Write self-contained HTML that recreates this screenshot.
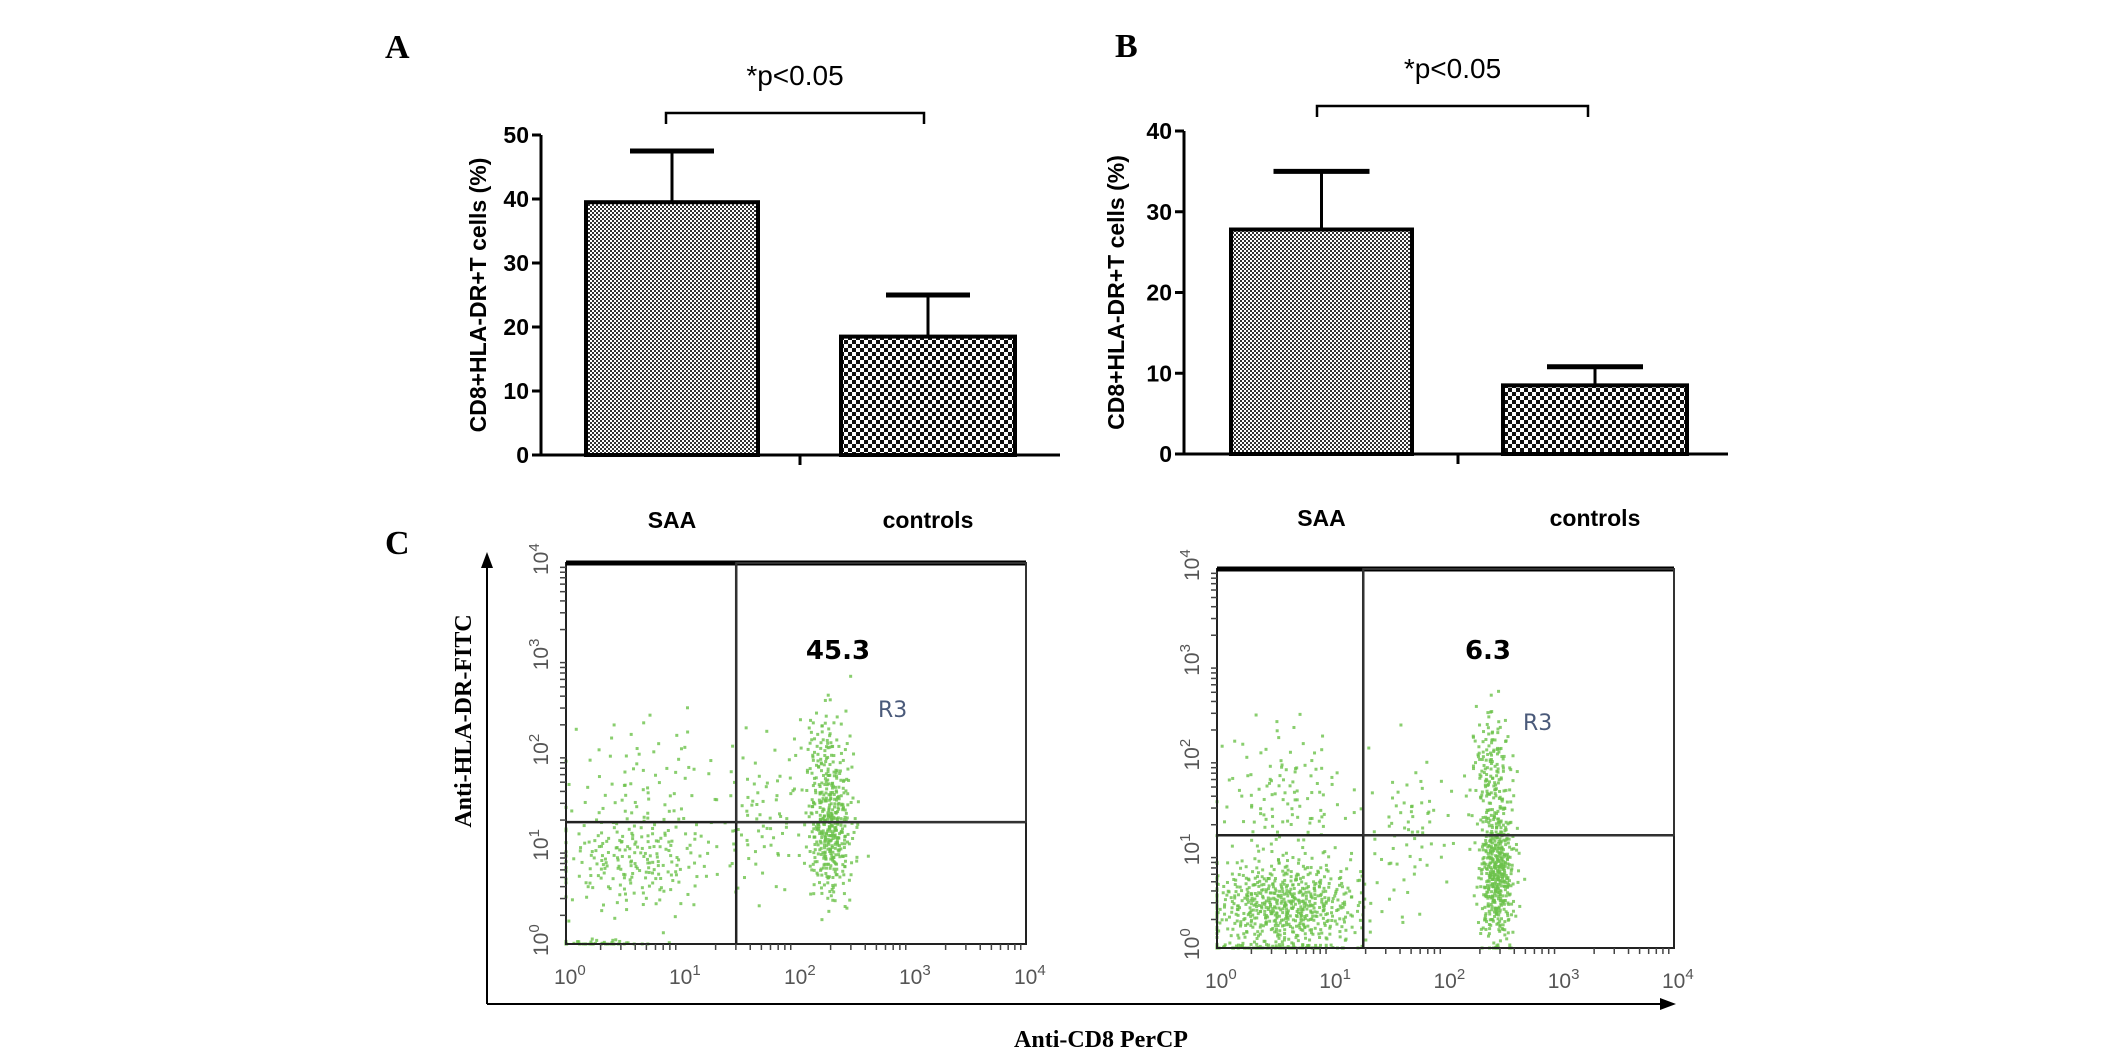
<!DOCTYPE html>
<html><head><meta charset="utf-8"><style>
html,body{margin:0;padding:0;background:#fff;}
svg{display:block;}
.ax{stroke:#000;stroke-width:3;fill:none;}
.tk{font-family:"Liberation Sans",sans-serif;font-weight:bold;font-size:23px;}
.lt{font-family:"Liberation Serif",serif;font-weight:bold;font-size:34px;}
</style></head><body>
<svg id="fig" width="2126" height="1056" viewBox="0 0 2126 1056" xmlns="http://www.w3.org/2000/svg">
<defs>
<pattern id="fine" width="4" height="4" patternUnits="userSpaceOnUse"><rect width="4" height="4" fill="#fff"/><rect width="2" height="2" fill="#333"/><rect x="2" y="2" width="2" height="2" fill="#333"/></pattern>
<pattern id="coarse" width="8" height="8" patternUnits="userSpaceOnUse"><rect width="8" height="8" fill="#fff"/><rect width="4" height="4" fill="#111"/><rect x="4" y="4" width="4" height="4" fill="#111"/></pattern>
</defs>
<text x="385" y="58" class="lt">A</text>
<text x="1115" y="57" class="lt">B</text>
<text x="385" y="554" class="lt">C</text>
<g id="gA"></g>
<g id="gB"></g>
<g id="gC"></g>
</svg>
<script>
const NS="http://www.w3.org/2000/svg";
// Bar chart data
const groups=["SAA","controls"];
const valuesA=[39.5,18.5];
const errorsA=[47.5,25];
const valuesB=[27.8,8.5];
const errorsB=[35,10.8];
const ticksA=[0,10,20,30,40,50];
const ticksB=[0,10,20,30,40];
// Flow data: clusters [xCenterLog, yCenterLog, xSpread, ySpread, count]
const flowLeftClusters=[[0.6,0.9,0.5,0.4,230],[0.7,1.8,0.5,0.45,60],[2.3,1.2,0.13,0.5,380],[2.25,2.0,0.16,0.4,90],[1.7,1.3,0.25,0.55,70],[0.3,0.0,0.3,0.04,40]];
const flowRightClusters=[[0.6,0.45,0.5,0.35,650],[0.6,1.6,0.4,0.55,120],[2.45,0.8,0.1,0.55,480],[2.4,1.9,0.12,0.45,140],[1.7,1.3,0.25,0.5,60],[0.5,0.0,0.45,0.04,60]];
const flowValues=["45.3","6.3"];
const decadeLabels=["0","1","2","3","4"];

function el(tag,attrs,parent,text){const e=document.createElementNS(NS,tag);for(const k in attrs)e.setAttribute(k,attrs[k]);if(text!==undefined)e.textContent=text;parent.appendChild(e);return e;}

function bar(gid,cfg,vals,errs,ticks){
 const g=document.getElementById(gid);
 const y=v=>cfg.y0-(v)*(cfg.y0-cfg.yTop)/cfg.max;
 let ax=el('line',{x1:cfg.ax,y1:y(cfg.max),x2:cfg.ax,y2:cfg.y0,class:'ax'},g);
 
 let xa=el('line',{x1:cfg.xa0,y1:cfg.y0,x2:cfg.xa1,y2:cfg.y0,class:'ax'},g);
 
 el('line',{x1:cfg.mid,y1:cfg.y0,x2:cfg.mid,y2:cfg.y0+10,class:'ax'},g);
 ticks.forEach(t=>{
  el('line',{x1:cfg.ax-9,y1:y(t),x2:cfg.ax,y2:y(t),class:'ax'},g);
  const tx=el('text',{x:cfg.ax-12,y:y(t)+8,'text-anchor':'end',class:'tk'},g,String(t));
  
 });
 const yl=el('text',{x:0,y:0,transform:`translate(${cfg.ylx},${(y(cfg.max)+cfg.y0)/2}) rotate(-90)`,'text-anchor':'middle',class:'tk'},g,'CD8+HLA-DR+T cells (%)');
 
 vals.forEach((v,i)=>{
  const b=cfg.bars[i];const cx=(b[0]+b[1])/2;
  const ln=el('line',{x1:cx,y1:y(errs[i]),x2:cx,y2:y(v),class:'ax'},g);
  
  el('line',{x1:cx-cfg.cap,y1:y(errs[i]),x2:cx+cfg.cap,y2:y(errs[i]),class:'ax',style:'stroke-width:5'},g);
  const r=el('rect',{x:b[0],y:y(v),width:b[1]-b[0],height:cfg.y0-y(v),fill:i==0?'url(#fine)':'url(#coarse)',stroke:'#000','stroke-width':4},g);
  
  const lb=el('text',{x:cx,y:cfg.labY,'text-anchor':'middle',class:'tk'},g,groups[i]);
  
 });
 el('path',{d:`M${cfg.br[0]},${cfg.br[3]} V${cfg.br[2]} H${cfg.br[1]} V${cfg.br[3]}`,class:'ax',style:'stroke-width:2.5'},g);
 const p=el('text',{x:(cfg.br[0]+cfg.br[1])/2,y:cfg.br[2]-28,'text-anchor':'middle',style:'font-family:"Liberation Sans",sans-serif;font-size:28px'},g,'*p<0.05');
 
}
bar('gA',{ax:541,xa0:532,xa1:1060,mid:800,y0:455,yTop:135,max:50,ylx:486,cap:42,labY:528,bars:[[586,758],[841,1015]],br:[666,924,113,124]},valuesA,errorsA,ticksA);
bar('gB',{ax:1184,xa0:1175,xa1:1728,mid:1458,y0:454,yTop:131,max:40,ylx:1124,cap:48,labY:526,bars:[[1231,1412],[1503,1687]],br:[1317,1588,106,117]},valuesB,errorsB,ticksB);

// quasi-random (Halton) deterministic sampling
function halton(i,b){let f=1,r=0;while(i>0){f/=b;r+=f*(i%b);i=Math.floor(i/b);}return r;}
function gauss(u){u=Math.min(Math.max(u,0.001),0.999);return Math.sqrt(-2*Math.log(u));}
function flow(cfg,clusters,val){
 const g=document.getElementById('gC');
 const X=l=>cfg.x0+l*(cfg.x1-cfg.x0)/4, Y=l=>cfg.y0-l*(cfg.y0-cfg.y1)/4;
 const dots=el('g',{fill:'#6cc24a'},g);
 
 let k=cfg.seed;
 clusters.forEach(c=>{for(let i=0;i<c[4];i++){k++;
  const u=halton(k,2),v=halton(k,3),w=halton(k,5);
  const r=gauss(u)*0.7,a=v*2*Math.PI;
  let lx=c[0]+c[2]*r*Math.cos(a)+ (w-0.5)*0.1, ly=c[1]+c[3]*r*Math.sin(a);
  lx=Math.max(0,Math.min(3.95,lx));ly=Math.max(0,Math.min(3.95,ly));
  el('rect',{x:X(lx)-1.5,y:Y(ly)-1.5,width:3,height:3,opacity:0.8},dots);}});
 const b=el('rect',{x:cfg.x0,y:cfg.y1,width:cfg.x1-cfg.x0,height:cfg.y0-cfg.y1,fill:'none',stroke:'#222','stroke-width':2},g);
 
 el('line',{x1:cfg.x0,y1:cfg.y1,x2:cfg.x1,y2:cfg.y1,stroke:'#000','stroke-width':5},g);
 el('line',{x1:X(cfg.gx),y1:cfg.y1,x2:X(cfg.gx),y2:cfg.y0,stroke:'#222','stroke-width':2.5},g);
 el('line',{x1:cfg.x0,y1:Y(cfg.gy),x2:cfg.x1,y2:Y(cfg.gy),stroke:'#222','stroke-width':2.5},g);
 el('rect',{x:X(cfg.gx),y:cfg.y1,width:cfg.x1-X(cfg.gx),height:Y(cfg.gy)-cfg.y1,fill:'none',stroke:'#333','stroke-width':2},g);
 for(let d=0;d<=4;d++){
  const tx=el('text',{x:X(d)-12,y:cfg.y0+40,style:'font-family:"Liberation Sans",sans-serif;font-size:21px;fill:#555'},g,'10');
  el('tspan',{dy:-9,style:'font-size:15px'},tx,decadeLabels[d]);
  
  const ty=el('text',{transform:`translate(${cfg.x0-18},${Y(d)+12}) rotate(-90)`,style:'font-family:"Liberation Sans",sans-serif;font-size:21px;fill:#555'},g,'10');
  el('tspan',{dy:-9,style:'font-size:15px'},ty,decadeLabels[d]);
  
  for(let m=2;m<=9&&d<4;m++){const o=Math.log10(m);
   el('line',{x1:X(d+o),y1:cfg.y0,x2:X(d+o),y2:cfg.y0+6,stroke:'#444','stroke-width':1.5},g);
   el('line',{x1:cfg.x0-6,y1:Y(d+o),x2:cfg.x0,y2:Y(d+o),stroke:'#444','stroke-width':1.5},g);}
 }
 const v=el('text',{x:cfg.vx,y:cfg.vy,'text-anchor':'middle',style:'font-family:"DejaVu Sans",sans-serif;font-weight:bold;font-size:26px'},g,val);
 
 const r=el('text',{x:cfg.rx,y:cfg.ry,style:'font-family:"DejaVu Sans",sans-serif;font-size:22px;fill:#4a5a7a'},g,'R3');
 
}
flow({x0:566,x1:1026,y0:944,y1:563,gx:1.48,gy:1.28,vx:838,vy:659,rx:878,ry:717,seed:10},flowLeftClusters,flowValues[0]);
flow({x0:1217,x1:1674,y0:948,y1:569,gx:1.28,gy:1.19,vx:1488,vy:659,rx:1523,ry:730,seed:3000},flowRightClusters,flowValues[1]);
const gc=document.getElementById('gC');
el('path',{d:'M487,1004 V556',stroke:'#000','stroke-width':2,fill:'none'},gc);
el('path',{d:'M481,568 L487,552 L493,568 Z',fill:'#000'},gc);
el('path',{d:'M487,1004 H1670',stroke:'#000','stroke-width':2,fill:'none'},gc);
el('path',{d:'M1660,998 L1676,1004 L1660,1010 Z',fill:'#000'},gc);
const yt=el('text',{transform:'translate(471,721) rotate(-90)','text-anchor':'middle',style:'font-family:"Liberation Serif",serif;font-weight:bold;font-size:24px'},gc,'Anti-HLA-DR-FITC');

const xt=el('text',{x:1101,y:1047,'text-anchor':'middle',style:'font-family:"Liberation Serif",serif;font-weight:bold;font-size:24px'},gc,'Anti-CD8 PerCP');

</script>
</body></html>
